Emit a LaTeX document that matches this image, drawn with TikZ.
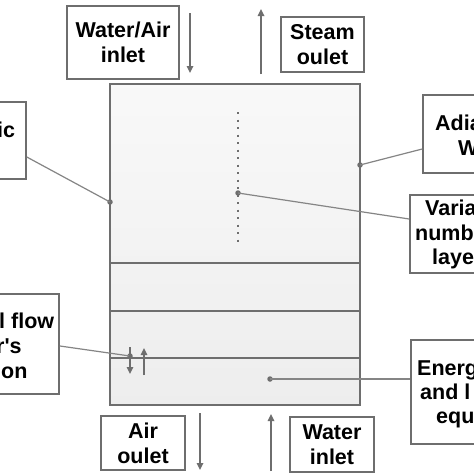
\documentclass[tikz,border=0pt]{standalone}
\usepackage{fontspec}
\setmainfont{Liberation Sans}
\usepackage{tikz}
\usetikzlibrary{arrows.meta}

\definecolor{edge}{HTML}{6E6E6E}
\definecolor{wire}{HTML}{858585}
\newcommand{\boxfont}{\fontsize{21.5}{25}\selectfont\bfseries}

\begin{document}
\begin{tikzpicture}[x=1pt,y=-1pt,
    box/.style={draw=edge,line width=1.6pt,fill=white,inner sep=0pt,align=center,font=\boxfont},
    frag/.style={anchor=base west,inner sep=0pt,font=\boxfont},
    flow/.style={draw=edge,line width=1.6pt,-{Triangle[length=7pt,width=6.5pt]}},
    wire/.style={draw=wire,line width=1.2pt},
    dot/.style={circle,fill=edge,inner sep=0pt,minimum size=5.5pt}]
    \useasboundingbox[fill=white] (0,0) rectangle (474,474);
    % ---- Column ----
    \node[draw=edge,line width=2pt,top color=gray!5,bottom color=gray!14,
          minimum width=250pt,minimum height=321pt] (tank) at (235,244.5) {};
    \foreach \yy in {263,311,358}
      \draw[edge,line width=1.8pt] (tank.west |- 0,\yy) -- (tank.east |- 0,\yy);
    \draw[edge,line width=2pt,dash pattern=on 2pt off 5.5pt] (238,112) -- (238,242);
    % ---- Inlets and outlets ----
    \node[box,minimum width=112pt,minimum height=73pt] (inlet) at (123,42.5) {Water/Air\\inlet};
    \node[box,minimum width=83pt,minimum height=55pt] (steam) at (322.5,44.5) {Steam\\oulet};
    \node[box,minimum width=84pt,minimum height=54pt] (airout) at (143,443) {Air\\oulet};
    \node[box,minimum width=84pt,minimum height=55pt] (waterin) at (332,444.5) {Water\\inlet};
    \draw[flow] (190,13) -- (190,73);
    \draw[flow] (261,74) -- (261,9);
    \draw[flow] (200,413) -- (200,470);
    \draw[flow] (271,471) -- (271,414);
    % ---- Side labels ----
    \node[box,minimum width=40pt,minimum height=77pt] (wallbox) at (6,140.5) {};
    \node[frag] (wallA) at (-3,137) {ic};
    \node[box,minimum width=70pt,minimum height=78pt] (adiabox) at (458,134) {};
    \node[frag] (adiaA) at (435,130) {Adia};
    \node[frag] (adiaB) at (458,155) {W};
    \node[box,minimum width=84pt,minimum height=78pt] (varbox) at (452,234) {};
    \node[frag] (varA) at (425,215) {Varia};
    \node[frag] (varB) at (415,240) {numb};
    \node[frag] (varC) at (432,264) {laye};
    \node[box,minimum width=82pt,minimum height=104pt] (enbox) at (452,392) {};
    \node[frag] (enA) at (417,375) {Energ};
    \node[frag] (enB) at (420,399) {and l};
    \node[frag] (enC) at (436,423) {equ};
    \node[box,minimum width=79pt,minimum height=100pt] (flowbox) at (19.5,344) {};
    \node[frag] (flowA) at (-1,328) {l flow};
    \node[frag] (flowB) at (-4,353) {r\textquotesingle s};
    \node[frag] (flowC) at (1,378) {on};
    % ---- Pointers ----
    \node[dot] (dwall) at (110,202) {};
    \node[dot] (dadia) at (360,165) {};
    \node[dot] (dvar) at (238,193) {};
    \node[dot] (den) at (270,379) {};
    \node[dot] (dflow) at (130,356) {};
    \draw[wire] ([yshift=-16.5pt]wallbox.east) -- (dwall.center);
    \draw[wire] ([yshift=-15pt]adiabox.west) -- (dadia.center);
    \draw[wire] ([yshift=15pt]varbox.west) -- (dvar.center);
    \draw[wire] ([yshift=13pt]enbox.west) -- (den.center);
    \draw[wire] ([yshift=-2pt]flowbox.east) -- (dflow.center);
    \draw[flow,line width=1.4pt] (130,347) -- (130,374);
    \draw[flow,line width=1.4pt] (144,375) -- (144,348);
\end{tikzpicture}
\end{document}
